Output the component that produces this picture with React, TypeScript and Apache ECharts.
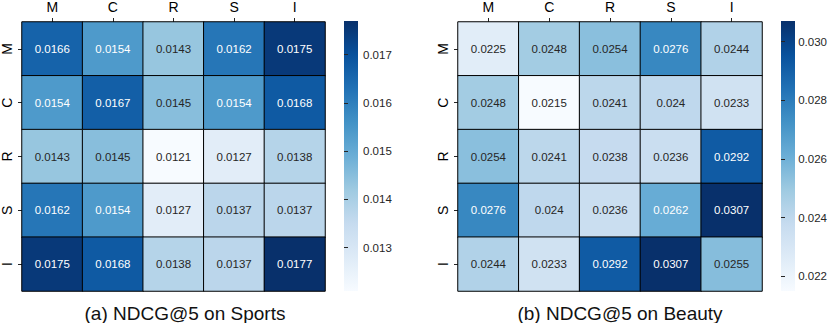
import React, { useEffect, useRef } from "react";
import * as echarts from "echarts";

const categories = ["M", "C", "R", "S", "I"];

const sportsValues = [
  [0.0166, 0.0154, 0.0143, 0.0162, 0.0175],
  [0.0154, 0.0167, 0.0145, 0.0154, 0.0168],
  [0.0143, 0.0145, 0.0121, 0.0127, 0.0138],
  [0.0162, 0.0154, 0.0127, 0.0137, 0.0137],
  [0.0175, 0.0168, 0.0138, 0.0137, 0.0177],
];

const beautyValues = [
  [0.0225, 0.0248, 0.0254, 0.0276, 0.0244],
  [0.0248, 0.0215, 0.0241, 0.024, 0.0233],
  [0.0254, 0.0241, 0.0238, 0.0236, 0.0292],
  [0.0276, 0.024, 0.0236, 0.0262, 0.0307],
  [0.0244, 0.0233, 0.0292, 0.0307, 0.0255],
];

const sportsTicks = [0.013, 0.014, 0.015, 0.016, 0.017];
const beautyTicks = [0.022, 0.024, 0.026, 0.028, 0.03];

const sportsTitle = "(a) NDCG@5 on Sports";
const beautyTitle = "(b) NDCG@5 on Beauty";

const blues = [
  "#f7fbff",
  "#deebf7",
  "#c6dbef",
  "#9ecae1",
  "#6baed6",
  "#4292c6",
  "#2171b5",
  "#08519c",
  "#08306b",
];

const FONT = "'Liberation Sans', Arial, Helvetica, sans-serif";
const TEXT = "#262626";

function flatMin(m: number[][]) {
  return Math.min(...m.map((r) => Math.min(...r)));
}
function flatMax(m: number[][]) {
  return Math.max(...m.map((r) => Math.max(...r)));
}

function buildData(m: number[][], lo: number, hi: number) {
  const out: any[] = [];
  m.forEach((row, yi) =>
    row.forEach((v, xi) => {
      const t = (v - lo) / (hi - lo);
      out.push({
        value: [xi, yi, v],
        label: { color: t >= 0.47 ? "#ffffff" : TEXT },
      });
    })
  );
  return out;
}

function gradientFill() {
  const stops = blues
    .slice()
    .reverse()
    .map((c, i) => ({ offset: i / (blues.length - 1), color: c }));
  return new echarts.graphic.LinearGradient(0, 0, 0, 1, stops);
}

export default function App() {
  const ref = useRef<HTMLDivElement>(null);
  useEffect(() => {
    if (!ref.current) return;
    const chart = echarts.init(ref.current, undefined, { renderer: "svg" });
    const sMin = flatMin(sportsValues);
    const sMax = flatMax(sportsValues);
    const bMin = flatMin(beautyValues);
    const bMax = flatMax(beautyValues);

    const heatGrids = [
      { left: 22, top: 21, width: 303, height: 270 },
      { left: 458, top: 21, width: 304, height: 270 },
    ];
    const barGrids = [
      { left: 344, top: 21, width: 14, height: 270 },
      { left: 781, top: 21, width: 14, height: 270 },
    ];

    const catX = (gi: number) => ({
      type: "category",
      gridIndex: gi,
      data: categories,
      position: "top",
      axisLine: { show: false },
      axisTick: { show: true, length: 4, alignWithLabel: true, lineStyle: { color: TEXT, width: 1 } },
      axisLabel: { fontSize: 14, color: "#000", fontFamily: FONT, margin: 8 },
      splitLine: { show: false },
    });
    const catY = (gi: number) => ({
      type: "category",
      gridIndex: gi,
      data: categories,
      inverse: true,
      axisLine: { show: false },
      axisTick: { show: true, length: 4, alignWithLabel: true, lineStyle: { color: TEXT, width: 1 } },
      axisLabel: { fontSize: 14, color: "#000", fontFamily: FONT, rotate: 90, margin: 8 },
      splitLine: { show: false },
    });
    const barX = (gi: number) => ({ type: "value", gridIndex: gi, show: false, min: 0, max: 1 });
    const barY = (gi: number, lo: number, hi: number, ticks: number[]) => ({
      type: "value",
      gridIndex: gi,
      min: lo,
      max: hi,
      position: "right",
      axisLine: { show: false },
      splitLine: { show: false },
      axisTick: {
        show: true,
        length: 4,
        customValues: ticks,
        lineStyle: { color: TEXT, width: 1 },
      },
      axisLabel: {
        customValues: ticks,
        formatter: (v: number) => v.toFixed(3),
        fontSize: 11.5,
        color: TEXT,
        fontFamily: FONT,
        margin: 5,
      },
    });

    const heatSeries = (gi: number, data: any[]) => ({
      type: "heatmap",
      xAxisIndex: gi,
      yAxisIndex: gi,
      data,
      itemStyle: { borderColor: "#000", borderWidth: 1 },
      label: {
        show: true,
        fontSize: 11.5,
        fontFamily: FONT,
        formatter: (p: any) => String(p.value[2]),
      },
      emphasis: { disabled: true },
    });

    chart.setOption({
      animation: false,
      textStyle: { fontFamily: FONT },
      grid: [heatGrids[0], barGrids[0], heatGrids[1], barGrids[1]],
      xAxis: [catX(0), barX(1), catX(2), barX(3)],
      yAxis: [
        catY(0),
        barY(1, sMin, sMax, sportsTicks),
        catY(2),
        barY(3, bMin, bMax, beautyTicks),
      ],
      visualMap: [
        { show: false, seriesIndex: 0, min: sMin, max: sMax, inRange: { color: blues } },
        { show: false, seriesIndex: 1, min: bMin, max: bMax, inRange: { color: blues } },
      ],
      series: [
        { ...heatSeries(0, buildData(sportsValues, sMin, sMax)), xAxisIndex: 0, yAxisIndex: 0 },
        { ...heatSeries(2, buildData(beautyValues, bMin, bMax)), xAxisIndex: 2, yAxisIndex: 2 },
      ],
      graphic: [
        {
          type: "rect",
          shape: { x: barGrids[0].left, y: barGrids[0].top, width: barGrids[0].width, height: barGrids[0].height },
          style: { fill: gradientFill() },
          z: -1,
        },
        {
          type: "rect",
          shape: { x: barGrids[1].left, y: barGrids[1].top, width: barGrids[1].width, height: barGrids[1].height },
          style: { fill: gradientFill() },
          z: -1,
        },
        {
          type: "text",
          x: 185,
          y: 313,
          style: {
            text: sportsTitle,
            fontSize: 19,
            fontFamily: FONT,
            fill: "#111",
            textAlign: "center",
            textVerticalAlign: "middle",
          },
        },
        {
          type: "text",
          x: 620,
          y: 313,
          style: {
            text: beautyTitle,
            fontSize: 19,
            fontFamily: FONT,
            fill: "#111",
            textAlign: "center",
            textVerticalAlign: "middle",
          },
        },
      ],
    });
    return () => chart.dispose();
  }, []);
  return (
    <div
      ref={ref}
      style={{ position: "fixed", left: 0, top: 0, width: 830, height: 323, background: "#fff" }}
    />
  );
}
